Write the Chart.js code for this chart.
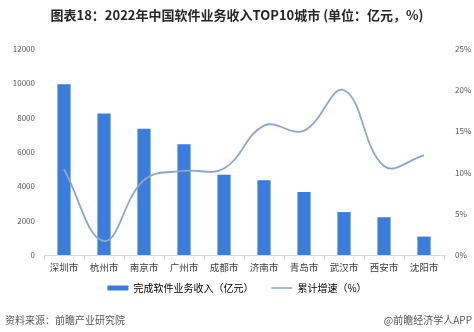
<!DOCTYPE html>
<html>
<head>
<meta charset="utf-8">
<script src="https://cdn.jsdelivr.net/npm/chart.js@4"></script>
<style>
html,body{margin:0;padding:0;background:#fff;}
#wrap{position:relative;width:474px;height:332px;}
</style>
</head>
<body>
<div id="wrap"><canvas id="c" width="474" height="332"></canvas></div>
<script>
const titleText = '图表18：2022年中国软件业务收入TOP10城市 (单位：亿元，%)';
const sourceText = '资料来源：前瞻产业研究院';
const brandText = '@前瞻经济学人APP';
const cities = ['深圳市','杭州市','南京市','广州市','成都市','济南市','青岛市','武汉市','西安市','沈阳市'];
const revenue = [9950, 8250, 7360, 6450, 4680, 4350, 3670, 2500, 2200, 1070];
const growth = [10.4, 1.7, 9.1, 10.2, 10.5, 15.7, 15.1, 20.0, 10.8, 12.1];
const leftTicks = [0, 2000, 4000, 6000, 8000, 10000, 12000];
const rightTicks = [0, 5, 10, 15, 20, 25];
const barLabel = '完成软件业务收入（亿元）';
const lineLabel = '累计增速（%）';

const FONT = '"Noto Sans CJK SC", "Microsoft YaHei", sans-serif';
const barColor = '#3B7DDD';
const lineColor = '#8FA7C6';

const textPlugin = {
  id: 'texts',
  afterLayout(chart) {
    const lg = chart.legend;
    if (lg) { lg.top -= 12; lg.bottom -= 12; }
  },
  afterDraw(chart) {
    const ctx = chart.ctx;
    ctx.save();
    ctx.fillStyle = '#262626';
    ctx.font = 'bold 13px ' + FONT;
    ctx.textAlign = 'center';
    ctx.textBaseline = 'middle';
    ctx.fillText(titleText, 237, 15);
    ctx.fillStyle = '#595959';
    ctx.font = '10px ' + FONT;
    ctx.textAlign = 'left';
    ctx.fillText(sourceText, 5, 320);
    ctx.textAlign = 'right';
    ctx.fillText(brandText, 472, 320);
    ctx.restore();
  }
};

new Chart(document.getElementById('c'), {
  data: {
    labels: cities,
    datasets: [
      {
        type: 'bar',
        label: barLabel,
        data: revenue,
        backgroundColor: barColor,
        yAxisID: 'y',
        categoryPercentage: 1,
        barPercentage: 0.33,
        order: 1
      },
      {
        type: 'line',
        label: lineLabel,
        data: growth,
        borderColor: lineColor,
        borderWidth: 1.8,
        tension: 0.4,
        pointRadius: 0,
        fill: false,
        yAxisID: 'y1',
        order: 0
      }
    ]
  },
  options: {
    responsive: false,
    animation: false,
    devicePixelRatio: 1,
    layout: { padding: { top: 49, left: 0, right: 0, bottom: 17 } },
    plugins: {
      title: { display: false },
      tooltip: { enabled: false },
      legend: {
        display: true,
        position: 'bottom',
        labels: {
          usePointStyle: true,
          pointStyleWidth: 21,
          boxHeight: 5,
          padding: 18,
          color: '#404040',
          font: { family: FONT, size: 10 },
          generateLabels() {
            return [
              { text: barLabel, fillStyle: barColor, strokeStyle: barColor, lineWidth: 0, pointStyle: 'rect', datasetIndex: 0 },
              { text: lineLabel, fillStyle: lineColor, strokeStyle: lineColor, lineWidth: 1.5, pointStyle: 'line', datasetIndex: 1 }
            ];
          }
        }
      }
    },
    scales: {
      x: {
        offset: true,
        grid: { display: true, drawOnChartArea: false, drawTicks: true, tickLength: 4, color: '#D9D9D9', offset: true },
        border: { display: true, color: '#D9D9D9' },
        ticks: { color: '#404040', font: { family: FONT, size: 9.5 }, padding: 3, maxRotation: 0, autoSkip: false },
        afterFit(s) { s.height = 22; }
      },
      y: {
        position: 'left',
        min: 0, max: 12000,
        afterBuildTicks(s) { s.ticks = leftTicks.map(v => ({ value: v })); },
        grid: { display: false, drawTicks: false },
        border: { display: false },
        ticks: { color: '#595959', font: { family: FONT, size: 8 }, padding: 9, callback: v => String(v) },
        afterFit(s) { s.width = 44; }
      },
      y1: {
        position: 'right',
        min: 0, max: 25,
        afterBuildTicks(s) { s.ticks = rightTicks.map(v => ({ value: v })); },
        grid: { display: false, drawTicks: false },
        border: { display: false },
        ticks: { color: '#595959', font: { family: FONT, size: 8 }, padding: 11, callback: v => v + '%' },
        afterFit(s) { s.width = 30; }
      }
    }
  },
  plugins: [textPlugin]
});
</script>
</body>
</html>
